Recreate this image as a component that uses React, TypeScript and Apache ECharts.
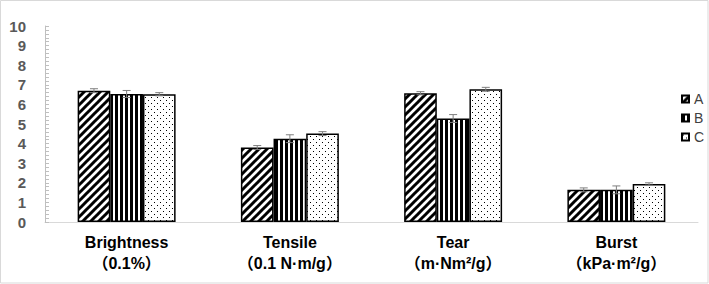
import React, { useEffect, useRef } from "react";
import * as echarts from "echarts";

const categories = [
  "Brightness\n（0.1%）",
  "Tensile\n（0.1 N·m/g）",
  "Tear\n（m·Nm²/g）",
  "Burst\n（kPa·m²/g）",
];
const seriesNames = ["A", "B", "C"];
const valuesA = [6.7, 3.8, 6.57, 1.64];
const valuesB = [6.53, 4.25, 5.28, 1.64];
const valuesC = [6.52, 4.51, 6.77, 1.94];
const errA = [0.1, 0.1, 0.08, 0.1];
const errB = [0.18, 0.2, 0.2, 0.2];
const errC = [0.08, 0.1, 0.1, 0.06];
const yTicks = [0, 10, 1];

const FONT = "'Liberation Sans', Arial, 'Noto Sans CJK SC', sans-serif";

function makeCanvas(w: number, h: number, draw: (ctx: CanvasRenderingContext2D) => void) {
  const c = document.createElement("canvas");
  c.width = w;
  c.height = h;
  const ctx = c.getContext("2d")!;
  ctx.fillStyle = "#fff";
  ctx.fillRect(0, 0, w, h);
  draw(ctx);
  return { image: c.toDataURL(), repeat: "repeat", imageWidth: w, imageHeight: h } as any;
}

export default function App() {
  const ref = useRef<HTMLDivElement>(null);
  useEffect(() => {
    if (!ref.current) return;
    const chart = echarts.init(ref.current, undefined, { renderer: "svg" });

    const diag = makeCanvas(8, 8, (ctx) => {
      ctx.strokeStyle = "#000";
      ctx.lineWidth = 3;
      ctx.beginPath();
      ctx.moveTo(-1, 9); ctx.lineTo(9, -1);
      ctx.moveTo(-1, 1); ctx.lineTo(1, -1);
      ctx.moveTo(7, 9); ctx.lineTo(9, 7);
      ctx.stroke();
    });
    const vert = makeCanvas(5, 4, (ctx) => {
      ctx.fillStyle = "#000";
      ctx.fillRect(0, 0, 3, 4);
    });
    const dots = makeCanvas(6, 6, (ctx) => {
      ctx.fillStyle = "#000";
      ctx.fillRect(1, 1, 1, 1);
      ctx.fillRect(4, 4, 1, 1);
    });
    const patterns = [diag, vert, dots];
    const vals = [valuesA, valuesB, valuesC];
    const errs = [errA, errB, errC];

    const errData: number[][] = [];
    vals.forEach((arr, s) =>
      arr.forEach((v, i) => errData.push([i, v, errs[s][i], s]))
    );

    const barSeries = seriesNames.map((name, s) => ({
      name,
      type: "bar",
      data: vals[s],
      barWidth: "20%",
      barGap: "0%",
      itemStyle: { color: patterns[s], borderColor: "#000", borderWidth: 1.5 },
    }));

    chart.setOption({
      animation: false,
      backgroundColor: "#fff",
      graphic: [
        {
          type: "rect",
          shape: { x: 0.5, y: 0.5, width: 707.5, height: 282.5 },
          style: { fill: "none", stroke: "#d9d9d9", lineWidth: 1 },
          silent: true,
        },
      ],
      grid: { left: 45, right: 11, top: 26, bottom: 62 },
      legend: {
        data: seriesNames,
        orient: "vertical",
        left: 681,
        top: 92,
        padding: 0,
        icon: "rect",
        itemWidth: 7,
        itemHeight: 7,
        itemGap: 5,
        textStyle: { fontSize: 14, color: "#404040", fontFamily: FONT },
      },
      xAxis: {
        type: "category",
        data: categories,
        axisLine: { lineStyle: { color: "#d9d9d9", width: 1 } },
        axisTick: { show: false },
        axisLabel: {
          interval: 0,
          margin: 10,
          fontSize: 16,
          fontWeight: "bold",
          color: "#000",
          lineHeight: 21,
          fontFamily: FONT,
        },
      },
      yAxis: {
        type: "value",
        min: yTicks[0],
        max: yTicks[1],
        interval: yTicks[2],
        axisLine: { show: true, lineStyle: { color: "#bfbfbf" } },
        axisTick: { show: true, inside: true, length: 4, lineStyle: { color: "#bfbfbf" } },
        minorTick: { show: true, splitNumber: 5, length: 4, lineStyle: { color: "#bfbfbf" } },
        splitLine: { show: false },
        axisLabel: {
          margin: 19,
          fontSize: 15,
          fontWeight: "bold",
          color: "#595959",
          fontFamily: FONT,
        },
      },
      series: [
        ...barSeries,
        {
          type: "custom",
          z: 10,
          silent: true,
          data: errData,
          encode: { x: 0, y: 1 },
          renderItem: (params: any, api: any) => {
            const cat = api.value(0);
            const v = api.value(1);
            const e = api.value(2);
            const s = api.value(3);
            const band = api.size([1, 0])[0];
            const cx = api.coord([cat, 0])[0] + (s - 1) * band * 0.2;
            const top = api.coord([cat, v + e])[1];
            const bot = api.coord([cat, v - e])[1];
            const hw = 4;
            const st = { stroke: "#7f7f7f", lineWidth: 1 };
            return {
              type: "group",
              children: [
                { type: "line", shape: { x1: cx, y1: top, x2: cx, y2: bot }, style: st },
                { type: "line", shape: { x1: cx - hw, y1: top, x2: cx + hw, y2: top }, style: st },
                { type: "line", shape: { x1: cx - hw, y1: bot, x2: cx + hw, y2: bot }, style: st },
              ],
            };
          },
        },
      ],
    });
    return () => chart.dispose();
  }, []);
  return (
    <div
      ref={ref}
      style={{ position: "fixed", left: 0, top: 0, width: 709, height: 284 }}
    />
  );
}
